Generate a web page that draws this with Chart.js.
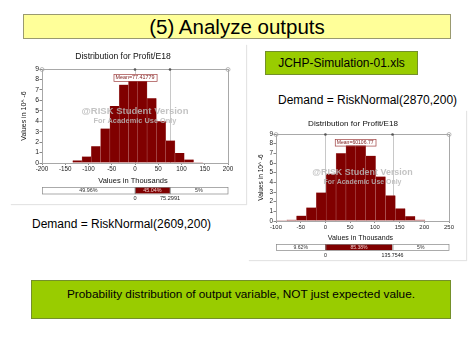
<!DOCTYPE html>
<html>
<head>
<meta charset="utf-8">
<script src="https://cdn.jsdelivr.net/npm/chart.js@4"></script>
<style>
  html, body { margin:0; padding:0; background:#fff; }
  body { width:474px; height:355px; position:relative; overflow:hidden; font-family:"Liberation Sans", Arial, sans-serif; color:#000; }
  .box { position:absolute; box-sizing:border-box; display:flex; align-items:center; justify-content:center; white-space:nowrap; }
  #title { left:23px; top:14px; width:428px; height:25px; background:#ffff99; border:1px solid #9a9a70; font-size:20.5px; }
  #file { left:265px; top:51px; width:153px; height:24px; background:#99cc00; border:1px solid #74902a; font-size:12px; }
  #note { left:31px; top:280px; width:420px; height:39px; background:#99cc00; border:1px solid #74902a; font-size:11.8px; align-items:flex-start; padding-top:6px; }
  .txt { position:absolute; white-space:nowrap; font-size:12px; line-height:14px; }
  canvas { position:absolute; background:#fff; }
  #c1 { left:10px; top:44px; box-shadow: 1px 1px 1px #e4e4e4; }
  #c2 { left:248px; top:110px; box-shadow: 1px 1px 1px #e4e4e4; }
</style>
</head>
<body>
<div class="box" id="title">(5) Analyze outputs</div>
<canvas id="c1" width="236" height="160"></canvas>
<canvas id="c2" width="218" height="150"></canvas>
<div class="box" id="file">JCHP-Simulation-01.xls</div>
<div class="txt" style="left:278px; top:93px;">Demand = RiskNormal(2870,200)</div>
<div class="txt" style="left:32px; top:217px;">Demand = RiskNormal(2609,200)</div>
<div class="box" id="note">Probability distribution of output variable, NOT just expected value.</div>
<script>
// ---------- data ----------
const chartTitle = 'Distribution for Profit/E18';
const xAxisLabel = 'Values in Thousands';
const yAxisLabel = 'Values in 10^ -6';
const watermark1 = '@RISK Student Version';
const watermark2 = 'For Academic Use Only';

// left chart: Demand = RiskNormal(2609,200)
const leftBinCenters = [-144, -124, -104, -84, -64, -44, -24, -4, 16, 36, 56, 76, 96, 116, 136, 156];
const leftValues     = [0.05, 0.25, 0.62, 1.6, 3.3, 5.45, 7.5, 7.85, 7.85, 6.2, 4.0, 2.15, 0.95, 0.33, 0.06, 0.04];
const leftXRange     = [-200, 200];
const leftXStep      = 50;
const leftYRange     = [0, 9];
const leftMeanValue  = 0.07741779;
const leftMeanLabel  = 'Mean=77.41779';
const leftDelimiters = [0, 75.2991];
const leftDelimLabels = ['0', '75.2991'];
const leftPercents   = ['49.96%', '45.04%', '5%'];

// right chart: Demand = RiskNormal(2870,200)
const rightBinCenters = [-88.5, -68.5, -48.5, -28.5, -8.5, 11.5, 31.5, 51.5, 71.5, 91.5, 111.5, 131.5, 151.5, 171.5, 191.5, 211.5];
const rightValues     = [0.08, 0.12, 0.55, 1.4, 2.95, 4.9, 7.0, 7.9, 7.95, 6.75, 4.6, 2.65, 1.3, 0.48, 0.12, 0.04];
const rightXRange     = [-100, 250];
const rightXStep      = 50;
const rightYRange     = [0, 9];
const rightMeanValue  = 60.10677;
const rightMeanLabel  = 'Mean=60106.77';
const rightDelimiters = [0, 135.7546];
const rightDelimLabels = ['0', '135.7546'];
const rightPercents   = ['9.62%', '85.38%', '5%'];

// ---------- drawing ----------
const FONT = '"Liberation Sans", Arial, sans-serif';
const BAR = '#800000';

const decor = {
  id: 'decor',
  beforeDatasetsDraw(chart, args, o) {
    const ctx = chart.ctx, a = chart.chartArea, xs = chart.scales.x;
    ctx.save();
    ctx.strokeStyle = '#c8c8c8';
    ctx.lineWidth = 1;
    o.delims.forEach(v => {
      const px = Math.round(xs.getPixelForValue(v)) + 0.5;
      ctx.beginPath(); ctx.moveTo(px, a.top); ctx.lineTo(px, a.bottom); ctx.stroke();
    });
    ctx.restore();
  },
  afterDraw(chart, args, o) {
    const ctx = chart.ctx, a = chart.chartArea, xs = chart.scales.x;
    const s = o.scale;
    const cx = (a.left + a.right) / 2, cy = (a.top + a.bottom) / 2;
    ctx.save();
    // plot border
    ctx.strokeStyle = '#a8a8a8'; ctx.lineWidth = 1;
    ctx.strokeRect(Math.round(a.left) + 0.5, Math.round(a.top) + 0.5, Math.round(a.right - a.left), Math.round(a.bottom - a.top));
    // top markers
    ctx.fillStyle = '#555';
    o.delims.forEach(v => {
      const px = xs.getPixelForValue(v);
      ctx.beginPath(); ctx.arc(px, a.top + 0.5, 1.3, 0, Math.PI * 2); ctx.fill();
    });
    ctx.strokeStyle = '#aaa'; ctx.lineWidth = 0.8;
    [a.left, a.right].forEach(px => { ctx.beginPath(); ctx.arc(px, a.top + 0.5, 2, 0, Math.PI * 2); ctx.stroke(); });
    // watermark
    ctx.textAlign = 'center'; ctx.textBaseline = 'middle';
    ctx.fillStyle = 'rgba(185,185,185,0.85)';
    ctx.font = 'bold ' + (9.5 * s) + 'px ' + FONT;
    ctx.fillText(o.wm1, cx, cy - 5 * s);
    ctx.font = 'bold ' + (7.4 * s) + 'px ' + FONT;
    ctx.fillText(o.wm2, cx, cy + 4.5 * s);
    // mean box
    const mx = xs.getPixelForValue(o.mean);
    ctx.font = (5.4 * s) + 'px ' + FONT;
    const mw = ctx.measureText(o.meanLabel).width + 4;
    const mh = 7 * s;
    ctx.fillStyle = '#fff';
    ctx.fillRect(mx - mw / 2, a.top + 5, mw, mh);
    ctx.strokeStyle = '#a04040'; ctx.lineWidth = 0.7;
    ctx.strokeRect(mx - mw / 2 + 0.5, a.top + 5.5, mw, mh);
    ctx.fillStyle = '#802020';
    ctx.fillText(o.meanLabel, mx, a.top + 5 + mh / 2 + 0.5);
    // chart title
    ctx.fillStyle = '#111';
    ctx.font = (8.6 * s) + 'px ' + FONT;
    ctx.fillText(o.title, o.titleX, o.titleY);
    // axis labels
    ctx.font = (7.5 * s) + 'px ' + FONT;
    ctx.fillText(o.xLabel, cx - 2, o.xLabelY);
    ctx.save();
    ctx.translate(o.yLabelX, cy);
    ctx.rotate(-Math.PI / 2);
    ctx.font = (7 * s) + 'px ' + FONT;
    ctx.fillText(o.yLabel, 0, 0);
    ctx.restore();
    // percentile bar
    const edges = [a.left, xs.getPixelForValue(o.delims[0]), xs.getPixelForValue(o.delims[1]), a.right];
    const by = o.barY, bh = 6.5 * s;
    for (let i = 0; i < 3; i++) {
      const x0 = edges[i], x1 = edges[i + 1];
      ctx.fillStyle = i === 1 ? BAR : '#fff';
      ctx.fillRect(x0, by, x1 - x0, bh);
      ctx.strokeStyle = '#888'; ctx.lineWidth = 0.7;
      ctx.strokeRect(x0 + 0.5, by + 0.5, x1 - x0 - 0.5, bh);
      ctx.fillStyle = i === 1 ? '#f0d0d0' : '#333';
      ctx.font = (5.4 * s) + 'px ' + FONT;
      ctx.fillText(o.percents[i], (x0 + x1) / 2, by + bh / 2 + 0.5);
    }
    ctx.fillStyle = '#222';
    ctx.font = (5.6 * s) + 'px ' + FONT;
    o.delimLabels.forEach((t, i) => ctx.fillText(t, edges[i + 1], by + bh + 5));
    ctx.restore();
  }
};

function makeHist(id, centers, values, xr, xstep, yr, layout, deco) {
  const s = deco.scale;
  return new Chart(document.getElementById(id), {
    type: 'bar',
    data: {
      datasets: [{
        data: centers.map((x, i) => ({ x: x, y: values[i] })),
        backgroundColor: BAR,
        borderColor: '#b86a6a',
        borderWidth: { left: 0.5, right: 0.5, top: 0, bottom: 0 },
        borderSkipped: false,
        barPercentage: 1,
        categoryPercentage: 1
      }]
    },
    options: {
      responsive: false,
      animation: false,
      devicePixelRatio: 1,
      layout: { padding: layout.padding },
      plugins: { legend: { display: false }, tooltip: { enabled: false }, title: { display: false }, decor: deco },
      scales: {
        x: {
          type: 'linear', min: xr[0], max: xr[1], offset: false,
          ticks: { stepSize: xstep, font: { size: 6.3 * s, family: FONT }, color: '#222', padding: 0.5, maxRotation: 0, autoSkip: false },
          grid: { display: true, drawOnChartArea: false, offset: false, tickLength: 2, color: '#888' },
          border: { display: false },
          afterFit(sc) { sc.height = layout.xh; }
        },
        y: {
          min: yr[0], max: yr[1],
          ticks: { stepSize: 1, autoSkip: false, font: { size: 6.8 * s, family: FONT }, color: '#222', padding: 0.5 },
          grid: { display: true, drawOnChartArea: false, tickLength: 2.5, color: '#888' },
          border: { display: false },
          afterFit(sc) { sc.width = layout.yw; }
        }
      }
    },
    plugins: [decor]
  });
}

makeHist('c1', leftBinCenters, leftValues, leftXRange, leftXStep, leftYRange,
  { padding: { left: 0, right: 18, top: 25, bottom: 0 }, xh: 41, yw: 32 },
  { scale: 1, delims: leftDelimiters, delimLabels: leftDelimLabels, percents: leftPercents,
    mean: leftMeanValue, meanLabel: leftMeanLabel, title: chartTitle, titleX: 113, titleY: 13,
    xLabel: xAxisLabel, xLabelY: 137, yLabel: yAxisLabel, yLabelX: 14, barY: 143,
    wm1: watermark1, wm2: watermark2 });

makeHist('c2', rightBinCenters, rightValues, rightXRange, rightXStep, rightYRange,
  { padding: { left: 0, right: 17, top: 24, bottom: 0 }, xh: 39, yw: 28 },
  { scale: 0.94, delims: rightDelimiters, delimLabels: rightDelimLabels, percents: rightPercents,
    mean: rightMeanValue, meanLabel: rightMeanLabel, title: chartTitle, titleX: 105, titleY: 14,
    xLabel: xAxisLabel, xLabelY: 128, yLabel: yAxisLabel, yLabelX: 13, barY: 134,
    wm1: watermark1, wm2: watermark2 });
</script>
</body>
</html>
